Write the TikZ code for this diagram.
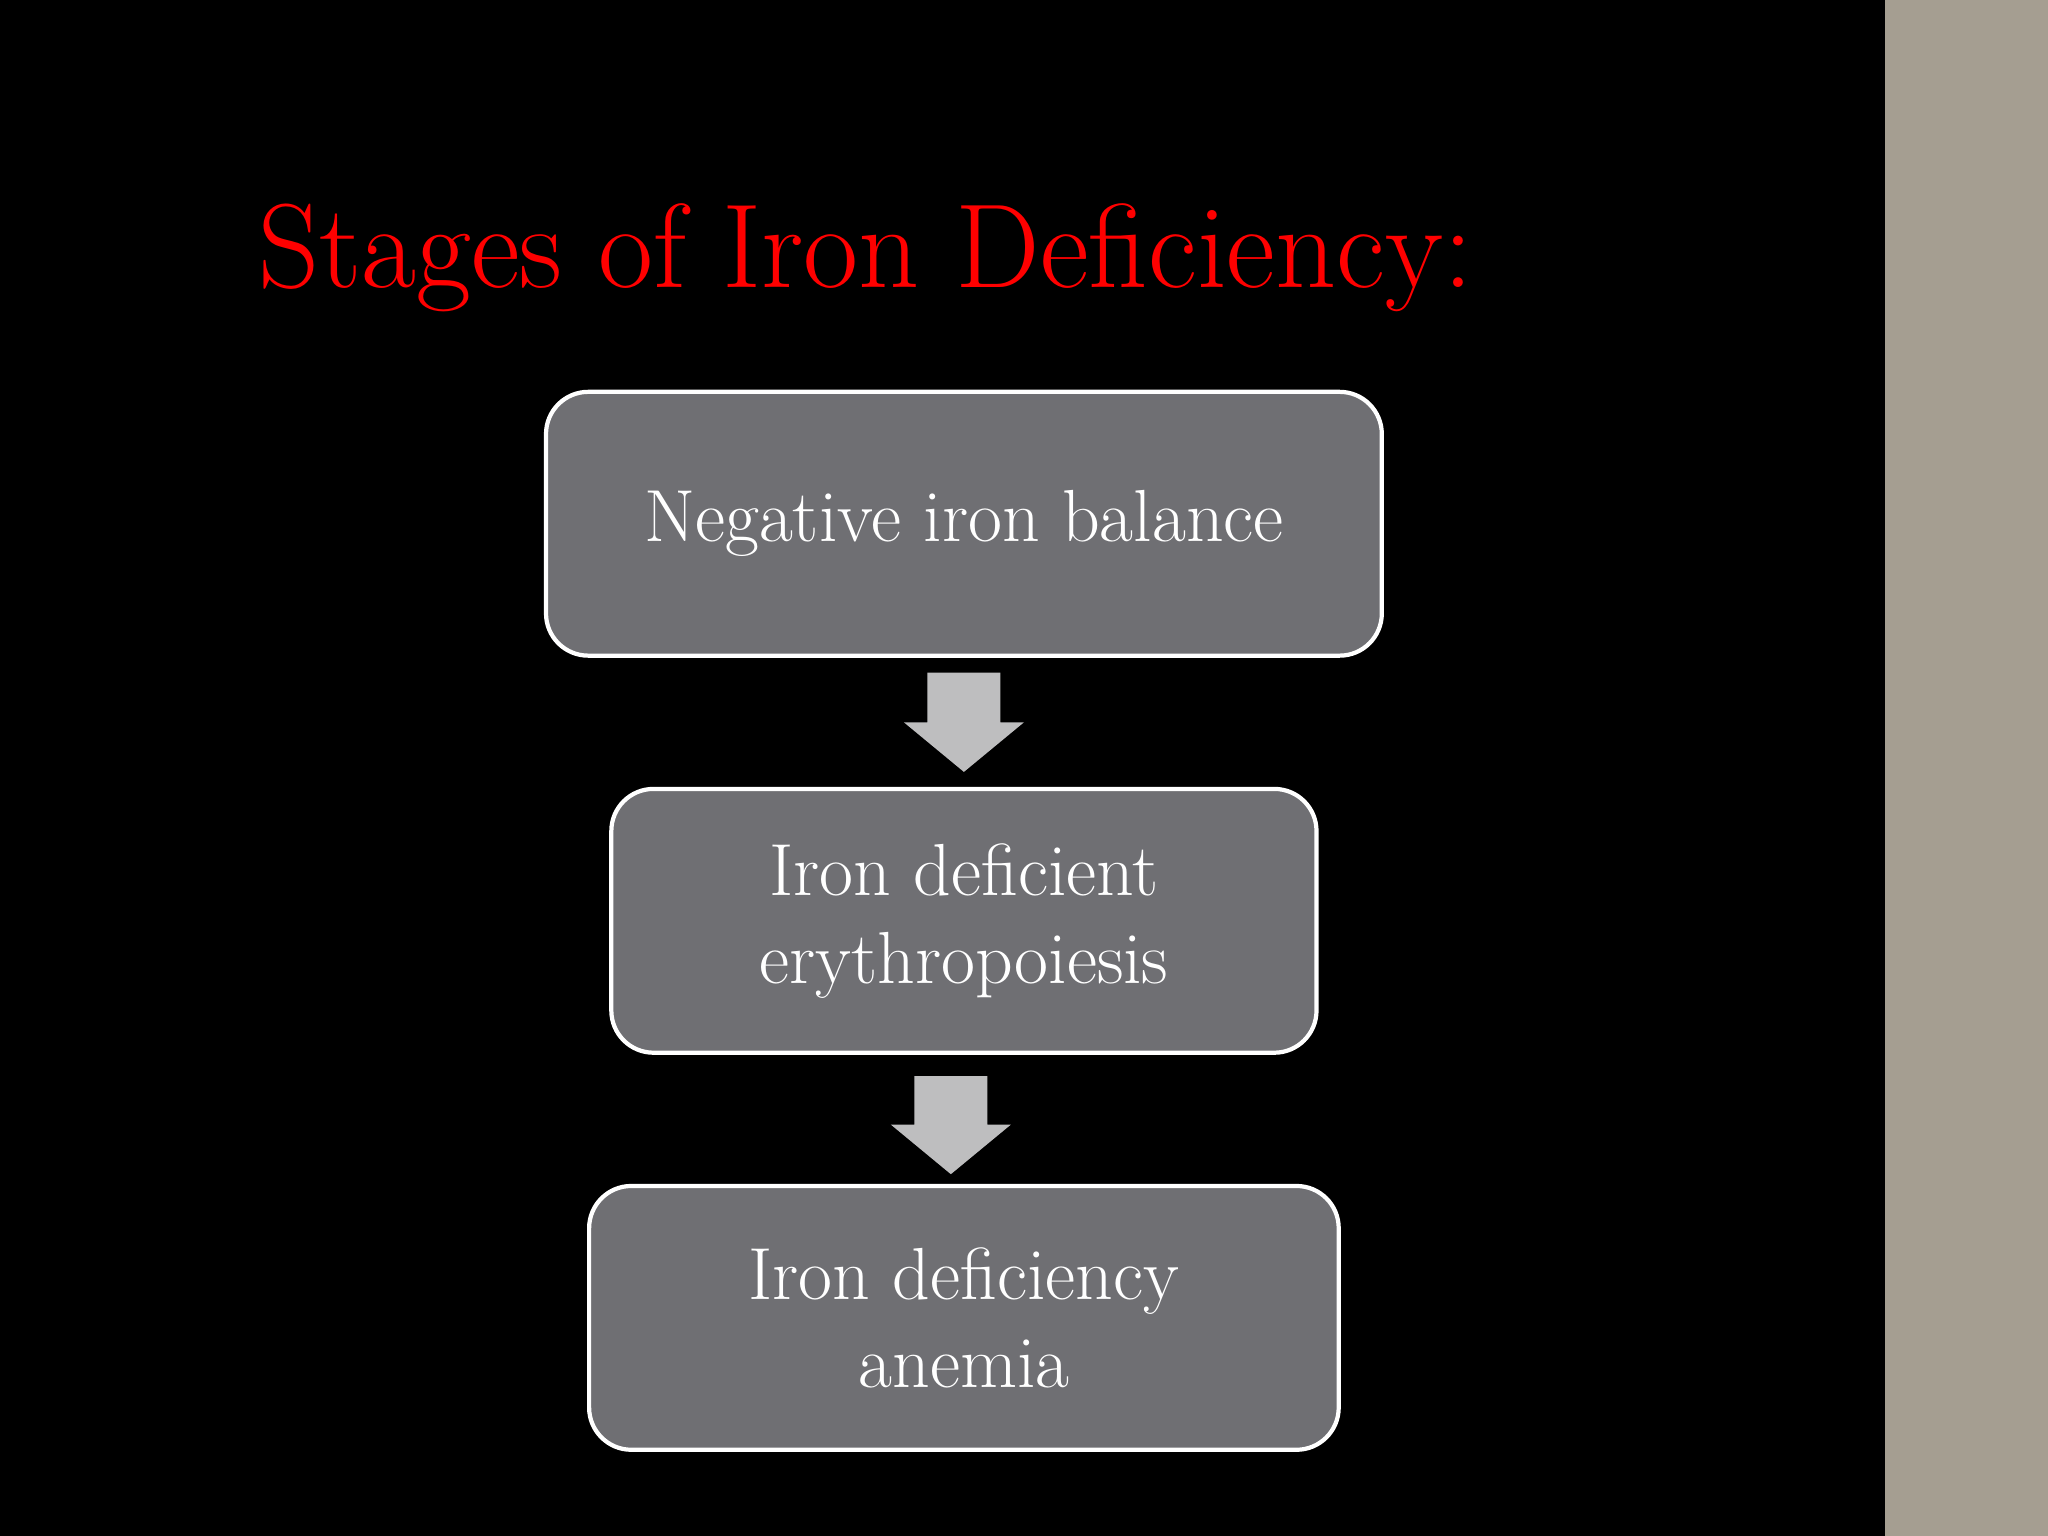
\documentclass[tikz,border=0pt]{standalone}
\usepackage{tikz}
\definecolor{stripgray}{RGB}{165,158,145}
\definecolor{boxgray}{RGB}{111,111,115}
\definecolor{arrowgray}{RGB}{190,190,191}
\tikzstyle{stage}=[draw=white,line width=1.2pt,fill=boxgray,rounded corners=12pt,text=white,align=center,font=\fontsize{21}{25}\selectfont]

\begin{document}
\begin{tikzpicture}[x=0.01306cm,y=-0.01306cm]
    \fill[black] (0,0) rectangle (1443,1176);
    \fill[stripgray] (1443,0) rectangle (1568,1176);
    \useasboundingbox (0,0) rectangle (1568,1176);
    \node[anchor=base west,text=red,inner sep=0pt,font=\fontsize{34}{40}\selectfont] (title) at (197,220) {Stages of Iron Deficiency:};
    \node[stage,minimum width=8.358cm,minimum height=2.638cm] (neg) at (738,401) {Negative iron balance};
    \node[stage,minimum width=7.052cm,minimum height=2.638cm] (ery) at (738,705) {Iron deficient\\erythropoiesis};
    \node[stage,minimum width=7.496cm,minimum height=2.638cm] (ane) at (738,1009) {Iron deficiency\\anemia};
    \fill[arrowgray] (710,515) -- (766,515) -- (766,553) -- (784,553) -- (738,591) -- (692,553) -- (710,553) -- cycle;
    \fill[arrowgray] (700,824) -- (756,824) -- (756,861) -- (774,861) -- (728,899) -- (682,861) -- (700,861) -- cycle;
  \end{tikzpicture}
\end{document}
